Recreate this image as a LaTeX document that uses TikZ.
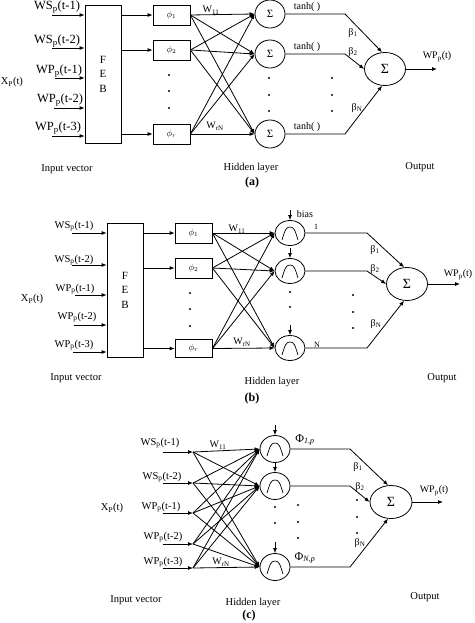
\documentclass[tikz,border=0pt]{standalone}
\usepackage{fontspec}
\setmainfont{Liberation Serif}
\usetikzlibrary{arrows.meta,shapes.geometric}

\tikzset{
  >={Latex[length=5pt,width=4pt]},
  feb/.style={draw, minimum width=36pt, inner sep=0pt, align=center,
    font=\fontsize{11}{14.5}\selectfont},
  phibox/.style={draw, minimum width=37pt, minimum height=20pt, inner sep=0pt,
    font=\fontsize{9}{10}\selectfont},
  sumnode/.style={draw, ellipse, minimum width=30pt, minimum height=28pt,
    inner sep=0pt, font=\fontsize{11}{12}\selectfont},
  rbfnode/.style={draw, ellipse, minimum width=30pt, minimum height=25pt,
    inner sep=0pt, path picture={
      \draw[line width=0.7pt] ([shift={(-8pt,-7pt)}]path picture bounding box.center)
        .. controls +(3pt,10pt) and +(-4pt,0pt) .. ++(8pt,13pt)
        .. controls +(4pt,0pt) and +(-3pt,10pt) .. ++(8pt,-13pt);}},
  outnode/.style={draw, ellipse, minimum width=41pt, minimum height=33pt,
    inner sep=0pt, font=\fontsize{14}{15}\selectfont},
  inlbl/.style={font=\fontsize{12.5}{14}\selectfont, inner sep=0pt},
  inlbls/.style={font=\fontsize{10.5}{12}\selectfont, inner sep=0pt},
  wlbl/.style={font=\fontsize{10}{11}\selectfont, inner sep=0pt},
  captxt/.style={font=\fontsize{10.5}{12}\selectfont, inner sep=0pt},
  paneltxt/.style={font=\fontsize{12}{13}\selectfont\bfseries, inner sep=0pt},
}

\begin{document}
\begin{tikzpicture}[x=1pt,y=-1pt,line width=0.8pt]
\useasboundingbox (0,0) rectangle (474,623);

%%%%%%%%%% (a) %%%%%%%%%%
% inputs
\node[inlbl] (la1) at (57,7) {WS\textsubscript{p}(t-1)};
\node[inlbl] (la2) at (57,41) {WS\textsubscript{p}(t-2)};
\node[inlbl] (la3) at (59,71) {WP\textsubscript{p}(t-1)};
\node[inlbl] (la4) at (60,100) {WP\textsubscript{p}(t-2)};
\node[inlbl] (la5) at (58,128) {WP\textsubscript{p}(t-3)};
\node[inlbls, anchor=west] (xa) at (0.5,82) {X\textsubscript{P}(t)};
\coordinate (ia1) at (52,15);
\coordinate (ia2) at (52,48);
\coordinate (ia3) at (55,78);
\coordinate (ia4) at (54,108);
\coordinate (ia5) at (52,136);

% feature extraction block
\node[feb, minimum height=138pt] (feba) at (103,74) {F\\E\\B};
\draw[->] (ia1) -- (ia1 -| feba.west);
\draw[->] (ia2) -- (ia2 -| feba.west);
\draw[->] (ia3) -- (ia3 -| feba.west);
\draw[->] (ia4) -- (ia4 -| feba.west);
\draw[->] (ia5) -- (ia5 -| feba.west);

% phi boxes
\node[phibox] (pa1) at (171.5,15) {$\phi_1$};
\node[phibox] (pa2) at (171.5,50) {$\phi_2$};
\node[phibox] (pa3) at (171.5,134) {$\phi_r$};
\draw[->] (pa1.west -| feba.east) -- (pa1.west);
\draw[->] (pa2.west -| feba.east) -- (pa2.west);
\draw[->] (pa3.west -| feba.east) -- (pa3.west);
\fill (169,75) circle (1.1) (169,91) circle (1.1) (169,108) circle (1.1);

% hidden layer
\node[sumnode] (sa1) at (270,14) {Σ};
\node[sumnode] (sa2) at (270,54) {Σ};
\node[sumnode] (sa3) at (270,134) {Σ};
\draw (pa1.east) edge[->] (sa1.west) edge[->] (sa2.west) edge[->] (sa3.west);
\draw (pa2.east) edge[->] (sa1.west) edge[->] (sa2.west) edge[->] (sa3.west);
\draw (pa3.east) edge[->] (sa1.west) edge[->] (sa2.west) edge[->] (sa3.west);
\node[wlbl] (wa1) at (211,10) {W\textsubscript{11}};
\node[wlbl] (wa2) at (215,126) {W\textsubscript{rN}};
\fill (269,78) circle (1.1) (269,95) circle (1.1) (269,111) circle (1.1);

% output
\coordinate (ka) at (345,0);
\node[outnode] (oa) at (385,69) {Σ};
\draw[->] (sa1.east) -- (sa1.east -| ka) -- (oa.100);
\draw[->] (sa2.east) -- (sa2.east -| ka) -- (oa.180);
\draw[->] (sa3.east) -- (sa3.east -| ka) -- (oa.260);
\node[wlbl] (ta1) at (307,7) {tanh( )};
\node[wlbl] (ta2) at (307,47) {tanh( )};
\node[wlbl] (ta3) at (307,127) {tanh( )};
\node[wlbl] (ba1) at (353,33) {β\textsubscript{1}};
\node[wlbl] (ba2) at (353,52) {β\textsubscript{2}};
\node[wlbl] (ba3) at (357,108) {β\textsubscript{N}};
\fill (332,78) circle (1.1) (332,95) circle (1.1) (332,111) circle (1.1);
\coordinate (ya) at (437,69);
\draw[->] (oa.east) -- (ya);
\node[wlbl] (wpa) at (437,57) {WP\textsubscript{p}(t)};

% captions
\node[captxt] (ca1) at (67,169) {Input vector};
\node[captxt] (ca2) at (251,168) {Hidden layer};
\node[captxt] (ca3) at (420,167) {Output};
\node[paneltxt] (ca4) at (252,183) {(a)};

%%%%%%%%%% (b) %%%%%%%%%%
% inputs
\node[inlbls] (lb1) at (74,226) {WS\textsubscript{p}(t-1)};
\node[inlbls] (lb2) at (74,260) {WS\textsubscript{p}(t-2)};
\node[inlbls] (lb3) at (75,289) {WP\textsubscript{p}(t-1)};
\node[inlbls] (lb4) at (77,317) {WP\textsubscript{p}(t-2)};
\node[inlbls] (lb5) at (74,345) {WP\textsubscript{p}(t-3)};
\node[inlbls] (xb) at (32,299) {X\textsubscript{P}(t)};
\coordinate (ib1) at (72,233);
\coordinate (ib2) at (72,265);
\coordinate (ib3) at (75,295);
\coordinate (ib4) at (74,325);
\coordinate (ib5) at (73,352);

% feature extraction block
\node[feb, minimum height=134pt] (febb) at (125,290) {F\\E\\B};
\draw[->] (ib1) -- (ib1 -| febb.west);
\draw[->] (ib2) -- (ib2 -| febb.west);
\draw[->] (ib3) -- (ib3 -| febb.west);
\draw[->] (ib4) -- (ib4 -| febb.west);
\draw[->] (ib5) -- (ib5 -| febb.west);

% phi boxes
\node[phibox] (pb1) at (193.5,233) {$\phi_1$};
\node[phibox] (pb2) at (193.5,268) {$\phi_2$};
\node[phibox, minimum height=18pt] (pb3) at (193.5,348.5) {$\phi_r$};
\draw[->] (pb1.west -| febb.east) -- (pb1.west);
\draw[->] (pb2.west -| febb.east) -- (pb2.west);
\draw[->] (pb3.west -| febb.east) -- (pb3.west);
\fill (190,293) circle (1.1) (190,309) circle (1.1) (190,326) circle (1.1);

% hidden layer
\node[rbfnode] (hb1) at (290,233) {};
\node[rbfnode] (hb2) at (290,271) {};
\node[rbfnode] (hb3) at (290,348) {};
\draw (pb1.east) edge[->] (hb1.west) edge[->] (hb2.west) edge[->] (hb3.west);
\draw (pb2.east) edge[->] (hb1.west) edge[->] (hb2.west) edge[->] (hb3.west);
\draw (pb3.east) edge[->] (hb1.west) edge[->] (hb2.west) edge[->] (hb3.west);
\node[wlbl] (wb1) at (237,229) {W\textsubscript{11}};
\node[wlbl] (wb2) at (242,342) {W\textsubscript{rN}};
\path (hb1.north) ++(0,-10) coordinate (bb1);
\path (hb2.north) ++(0,-10) coordinate (bb2);
\path (hb3.north) ++(0,-10) coordinate (bb3);
\draw[->] (bb1) -- (hb1.north);
\draw[->] (bb2) -- (hb2.north);
\draw[->] (bb3) -- (hb3.north);
\node[wlbl] (bias) at (305,214) {bias};
\node[font=\fontsize{8}{9}\selectfont, inner sep=0pt] (nb1) at (316,227) {1};
\node[font=\fontsize{8}{9}\selectfont, inner sep=0pt] (nb2) at (317,345) {N};
\fill (290,292) circle (1.1) (290,307) circle (1.1);

% output
\coordinate (kb) at (367,0);
\node[outnode] (ob) at (407,284) {Σ};
\draw[->] (hb1.east) -- (hb1.east -| kb) -- (ob.100);
\draw[->] (hb2.east) -- (hb2.east -| kb) -- (ob.180);
\draw[->] (hb3.east) -- (hb3.east -| kb) -- (ob.260);
\node[wlbl] (bb1l) at (375,250) {β\textsubscript{1}};
\node[wlbl] (bb2l) at (375,269) {β\textsubscript{2}};
\node[wlbl] (bb3l) at (376,324) {β\textsubscript{N}};
\fill (353,295) circle (1.1) (353,312) circle (1.1) (353,328) circle (1.1);
\coordinate (yb) at (460,284);
\draw[->] (ob.east) -- (yb);
\node[wlbl] (wpb) at (458,275) {WP\textsubscript{p}(t)};

% captions
\node[captxt] (cb1) at (76,378) {Input vector};
\node[captxt] (cb2) at (272,382) {Hidden layer};
\node[captxt] (cb3) at (442,378) {Output};
\node[paneltxt] (cb4) at (252,399) {(b)};

%%%%%%%%%% (c) %%%%%%%%%%
% inputs
\node[inlbls] (lc1) at (160,443) {WS\textsubscript{p}(t-1)};
\node[inlbls] (lc2) at (162,477) {WS\textsubscript{p}(t-2)};
\node[inlbls] (lc3) at (161,507) {WP\textsubscript{p}(t-1)};
\node[inlbls] (lc4) at (163,537) {WP\textsubscript{p}(t-2)};
\node[inlbls] (lc5) at (163,562) {WP\textsubscript{p}(t-3)};
\node[inlbls] (xc) at (112,508) {X\textsubscript{P}(t)};
\coordinate (cs1) at (163,452);
\coordinate (cs2) at (163,483);
\coordinate (cs3) at (163,513);
\coordinate (cs4) at (163,544);
\coordinate (cs5) at (163,568);
\coordinate (ci1) at (193,452);
\coordinate (ci2) at (193,483);
\coordinate (ci3) at (193,513);
\coordinate (ci4) at (193,544);
\coordinate (ci5) at (193,568);
\draw[->] (cs1) -- (ci1);
\draw[->] (cs2) -- (ci2);
\draw[->] (cs3) -- (ci3);
\draw[->] (cs4) -- (ci4);
\draw[->] (cs5) -- (ci5);

% hidden layer
\node[rbfnode, minimum height=27pt] (hc1) at (275,449) {};
\node[rbfnode, minimum height=27pt] (hc2) at (275,486) {};
\node[rbfnode, minimum height=27pt] (hc3) at (275,567) {};
\draw (ci1) edge[->] (hc1.west) edge[->] (hc2.west) edge[->] (hc3.west);
\draw (ci2) edge[->] (hc1.west) edge[->] (hc2.west) edge[->] (hc3.west);
\draw (ci3) edge[->] (hc1.west) edge[->] (hc2.west) edge[->] (hc3.west);
\draw (ci4) edge[->] (hc1.west) edge[->] (hc2.west) edge[->] (hc3.west);
\draw (ci5) edge[->] (hc1.west) edge[->] (hc2.west) edge[->] (hc3.west);
\node[wlbl] (wc1) at (218,445) {W\textsubscript{11}};
\node[wlbl] (wc2) at (221,562) {W\textsubscript{rN}};
\path (hc1.north) ++(0,-10) coordinate (bc1);
\path (hc2.north) ++(0,-9) coordinate (bc2);
\path (hc3.north) ++(0,-11) coordinate (bc3);
\draw[->] (bc1) -- (hc1.north);
\draw[->] (bc2) -- (hc2.north);
\draw[->] (bc3) -- (hc3.north);
\node[font=\fontsize{12}{13}\selectfont, inner sep=0pt] (fc1) at (305,440) {Φ\textsubscript{\itshape 1,p}};
\node[font=\fontsize{12}{13}\selectfont, inner sep=0pt] (fc2) at (305,558) {Φ\textsubscript{\itshape N,p}};
\fill (275,507) circle (1.1) (275,523) circle (1.1);
\fill (298,505) circle (1.1) (298,522) circle (1.1) (298,538) circle (1.1);

% output
\coordinate (kc) at (350,0);
\node[outnode, minimum width=42pt] (oc) at (391,502) {Σ};
\draw[->] (hc1.east) -- (hc1.east -| kc) -- (oc.100);
\draw[->] (hc2.east) -- (hc2.east -| kc) -- (oc.180);
\draw[->] (hc3.east) -- (hc3.east -| kc) -- (oc.260);
\node[wlbl] (bc1l) at (358,467) {β\textsubscript{1}};
\node[wlbl] (bc2l) at (360,487) {β\textsubscript{2}};
\node[wlbl] (bc3l) at (360,543) {β\textsubscript{N}};
\fill (357,500) circle (1.1) (357,517) circle (1.1) (357,533) circle (1.1);
\coordinate (yc) at (443,502);
\draw[->] (oc.east) -- (yc);
\node[wlbl] (wpc) at (434,491) {WP\textsubscript{p}(t)};

% captions
\node[captxt] (cc1) at (136,600) {Input vector};
\node[captxt] (cc2) at (253,603) {Hidden layer};
\node[captxt] (cc3) at (425,597) {Output};
\node[paneltxt] (cc4) at (249,616) {(c)};

\end{tikzpicture}
\end{document}
